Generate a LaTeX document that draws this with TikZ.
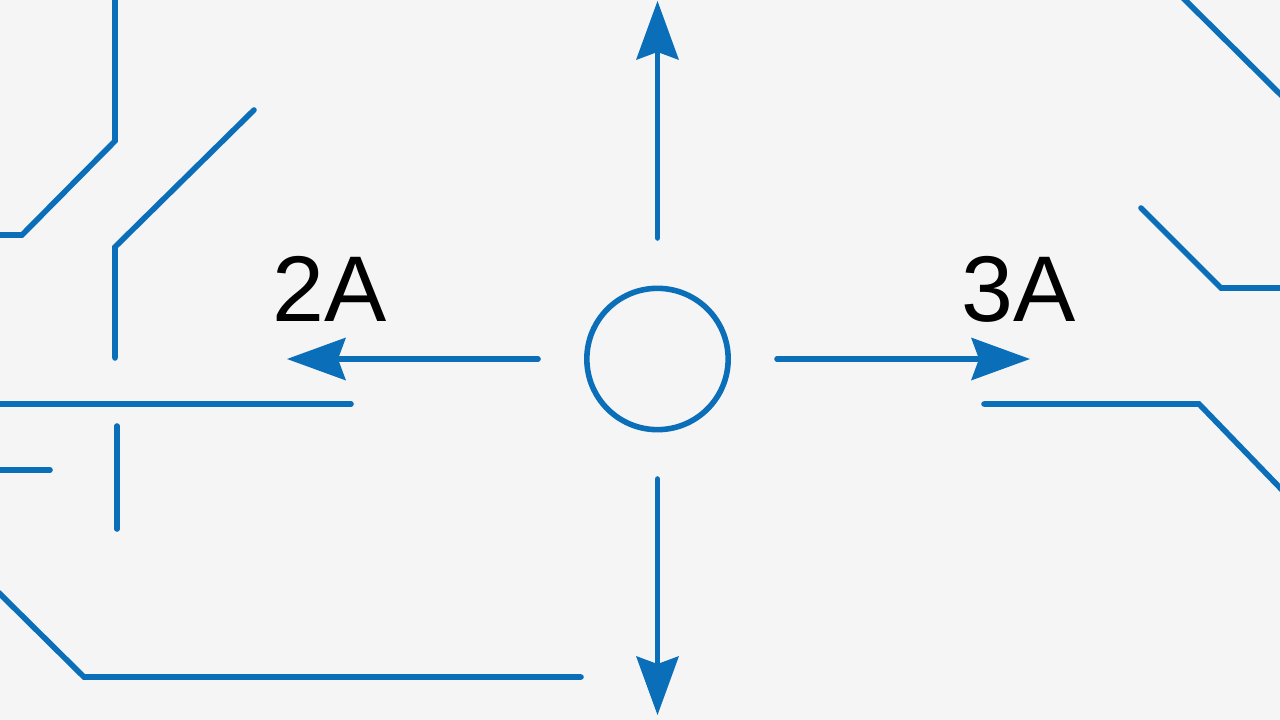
\documentclass[tikz,border=0pt]{standalone}
\usepackage{fontspec}
\setmainfont{Liberation Sans}
\definecolor{wireblue}{RGB}{10,110,184}
\definecolor{paper}{RGB}{245,245,246}
\tikzset{every picture/.style={line width=0.75pt}}
\tikzset{
	wire/.style={draw=wireblue,line width=4.2pt,line cap=round,line join=miter},
	tiphead/.style={fill=wireblue,draw=none},
	current/.style={font=\fontsize{70}{70}\selectfont,text=black,inner sep=0pt},
}

\begin{document}
\begin{tikzpicture}[x=0.75pt,y=0.75pt,yscale=-1,xscale=1]
	\fill [paper] (0,0) rectangle (1280,720);
	\useasboundingbox (0,0) rectangle (1280,720);

	%Shape: Circle
	\node (wirecut) [circle,wire,fill=none,minimum size=106pt,inner sep=0pt] at (657.5,359) {};

	%Tails of the force arrows
	\coordinate (upstart) at (657.5,238);
	\coordinate (uptip) at (657.5,50);
	\coordinate (downstart) at (657.5,479);
	\coordinate (downtip) at (657.5,665);
	\coordinate (leftstart) at (538,359);
	\coordinate (lefttip) at (338,359);
	\coordinate (rightstart) at (777,359);
	\coordinate (righttip) at (980,359);

	%Straight Lines
	\draw [wire] (upstart) -- (uptip);
	\draw [wire] (downstart) -- (downtip);
	\draw [wire] (leftstart) -- (lefttip);
	\draw [wire] (rightstart) -- (righttip);

	%Arrow heads
	\fill [tiphead,shift={(657.5,1)},rotate=90] (0,0) -- (59,-21.5) -- (51,0) -- (59,21.5) -- cycle;
	\fill [tiphead,shift={(657.5,715)},rotate=270] (0,0) -- (59,-21.5) -- (51,0) -- (59,21.5) -- cycle;
	\fill [tiphead,shift={(287,359)},rotate=0] (0,0) -- (59,-21.5) -- (51,0) -- (59,21.5) -- cycle;
	\fill [tiphead,shift={(1030,359)},rotate=180] (0,0) -- (59,-21.5) -- (51,0) -- (59,21.5) -- cycle;

	%Field lines, left side
	\draw [wire] (115,-5) -- (115,141) -- (22,235) -- (-5,235);
	\draw [wire] (254,110) -- (115,247) -- (115,358);
	\draw [wire] (-5,404) -- (351,404);
	\draw [wire] (117,426) -- (117,529);
	\draw [wire] (-5,470) -- (50,470);
	\draw [wire] (-5,589) -- (84,677) -- (581,677);

	%Field lines, right side
	\draw [wire] (1180,-5) -- (1285,99);
	\draw [wire] (1141,208) -- (1221,288) -- (1285,288);
	\draw [wire] (984,404) -- (1199,404) -- (1285,493);

	% Text Node
	\node (labeltwo) [current,anchor=base] at (330,321) {2A};
	\node (labelthree) [current,anchor=base] at (1019,321) {3A};
\end{tikzpicture}
\end{document}
